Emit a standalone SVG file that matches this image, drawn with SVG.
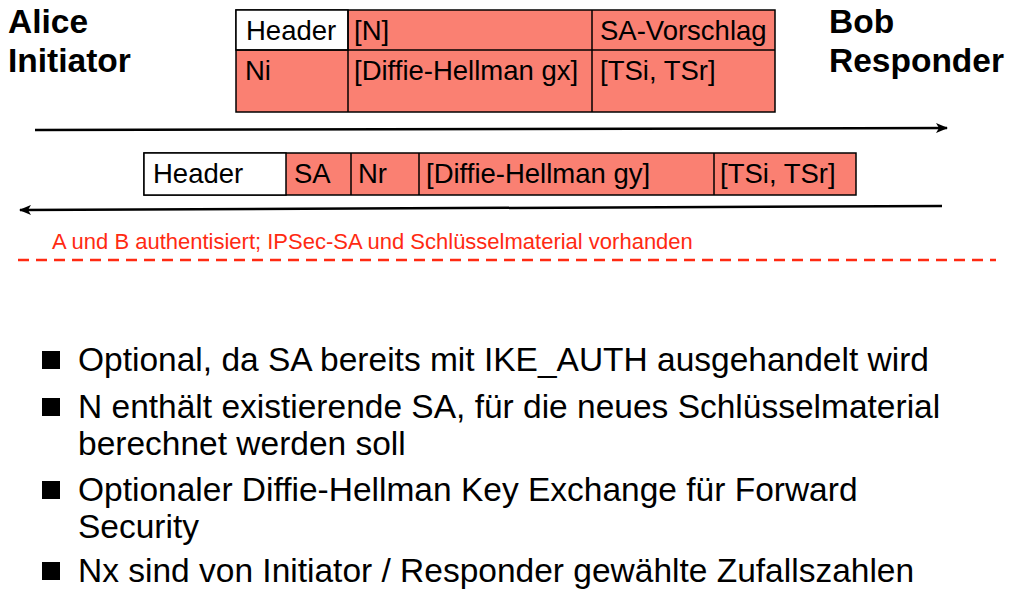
<svg xmlns="http://www.w3.org/2000/svg" width="1014" height="612" viewBox="0 0 1014 612">
<style>
.t{font-family:"Liberation Sans",Arial,sans-serif;fill:#000}
.cell{font-size:27.5px}
.big{font-size:33.5px;font-weight:bold}
.bul{font-size:33.5px}
.red{font-family:"Liberation Sans",Arial,sans-serif;font-size:22px;fill:#ff2a12}
.sal{fill:#fa8072;stroke:#000;stroke-width:1.5}
.wh{fill:#fff;stroke:#000;stroke-width:1.5}
.ln{stroke:#000;stroke-width:2.5;fill:none}
</style>
<defs>
<marker id="ah" viewBox="0 0 12 10" refX="11" refY="5" markerWidth="12" markerHeight="10" markerUnits="userSpaceOnUse" orient="auto">
<path d="M0,0 L12,5 L0,10 L3,5 Z" fill="#000"/>
</marker>
</defs>
<rect width="1014" height="612" fill="#fff"/>
<g id="alice">
<text class="t big" x="8" y="33">Alice</text>
<text class="t big" x="8" y="72">Initiator</text>
</g>
<g id="bob">
<text class="t big" x="829" y="33">Bob</text>
<text class="t big" x="829" y="72">Responder</text>
</g>
<g id="msg1">
<rect class="sal" x="236" y="10" width="539" height="102"/>
<rect class="wh" x="236" y="10" width="112" height="40"/>
<line x1="348" y1="10" x2="348" y2="112" stroke="#000" stroke-width="1.5"/>
<line x1="592" y1="10" x2="592" y2="112" stroke="#000" stroke-width="1.5"/>
<line x1="236" y1="50" x2="775" y2="50" stroke="#000" stroke-width="1.5"/>
<text class="t cell" x="246" y="40">Header</text>
<text class="t cell" x="354" y="40">[N]</text>
<text class="t cell" x="600" y="40">SA-Vorschlag</text>
<text class="t cell" x="245" y="80">Ni</text>
<text class="t cell" x="354" y="80">[Diffie-Hellman gx]</text>
<text class="t cell" x="600" y="80">[TSi, TSr]</text>
</g>
<g id="msg2">
<rect class="sal" x="144" y="153" width="712" height="42"/>
<rect class="wh" x="144" y="153" width="142" height="42"/>
<line x1="351" y1="153" x2="351" y2="195" stroke="#000" stroke-width="1.5"/>
<line x1="419" y1="153" x2="419" y2="195" stroke="#000" stroke-width="1.5"/>
<line x1="714" y1="153" x2="714" y2="195" stroke="#000" stroke-width="1.5"/>
<text class="t cell" x="153" y="183">Header</text>
<text class="t cell" x="294" y="183">SA</text>
<text class="t cell" x="358" y="183">Nr</text>
<text class="t cell" x="426" y="183">[Diffie-Hellman gy]</text>
<text class="t cell" x="720" y="183">[TSi, TSr]</text>
</g>
<g id="connectors">
<line class="ln" x1="35" y1="130" x2="947" y2="128" marker-end="url(#ah)"/>
<line class="ln" x1="942" y1="206" x2="20" y2="210" marker-end="url(#ah)"/>
<line x1="18" y1="260" x2="996" y2="260" stroke="#ff2a12" stroke-width="2.5" stroke-dasharray="11 7"/>
</g>
<text class="red" x="52" y="249">A und B authentisiert; IPSec-SA und Schlüsselmaterial vorhanden</text>
<g id="bullets">
<rect x="42" y="351" width="18" height="18" fill="#000"/>
<text class="t bul" x="78" y="371">Optional, da SA bereits mit IKE_AUTH ausgehandelt wird</text>
<rect x="42" y="398" width="18" height="18" fill="#000"/>
<text class="t bul" x="78" y="418">N enthält existierende SA, für die neues Schlüsselmaterial</text>
<text class="t bul" x="78" y="455">berechnet werden soll</text>
<rect x="42" y="481" width="18" height="18" fill="#000"/>
<text class="t bul" x="78" y="501">Optionaler Diffie-Hellman Key Exchange für Forward</text>
<text class="t bul" x="78" y="538">Security</text>
<rect x="42" y="562" width="18" height="18" fill="#000"/>
<text class="t bul" x="78" y="582">Nx sind von Initiator / Responder gewählte Zufallszahlen</text>
</g>
</svg>
